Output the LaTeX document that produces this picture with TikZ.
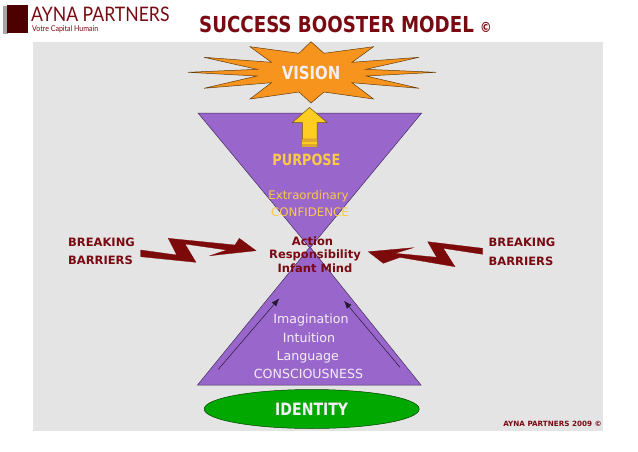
\documentclass[tikz,border=0pt]{standalone}
\usepackage{fontspec}
\setmainfont{DejaVu Sans}
\newfontfamily\condfont[FakeStretch=0.92]{DejaVu Sans Condensed}
\newfontfamily\logofont[FakeStretch=0.88]{Lato}
\usetikzlibrary{arrows.meta,calc,shapes.geometric}
\definecolor{darkred}{HTML}{7A0A12}
\definecolor{boltred}{HTML}{7D0A0A}
\definecolor{panelgray}{HTML}{E4E4E4}
\definecolor{starorange}{HTML}{F7941D}
\definecolor{tripurple}{HTML}{9966CC}
\definecolor{arrowyellow}{HTML}{FFCC22}
\definecolor{purposegold}{HTML}{FBC94A}
\definecolor{idgreen}{HTML}{00A800}
\definecolor{softwhite}{HTML}{F4EEF6}
\tikzset{
  plaintext/.style={inner sep=0pt,align=center},
  barrier/.style={plaintext,text=darkred,font=\bfseries\fontsize{11.5}{13}\selectfont},
  centertext/.style={plaintext,text=darkred,font=\bfseries\fontsize{11.5}{13}\selectfont},
  goldtext/.style={plaintext,text=purposegold,font=\fontsize{11.8}{13}\selectfont},
  whitetext/.style={plaintext,text=softwhite,font=\fontsize{12.6}{14}\selectfont},
  bigtext/.style={plaintext,font=\bfseries\condfont\fontsize{17}{20}\selectfont},
  bolt/.style={fill=boltred,draw=boltred,line width=0.3pt},
  thinarrow/.style={-{Latex[length=8pt,width=6pt]},draw=black!75!tripurple,line width=0.5pt}
}
\begin{document}
\begin{tikzpicture}[x=1pt,y=-1pt]
\useasboundingbox (0,0) rectangle (638,451);
\fill[white] (0,0) rectangle (638,451);

\fill[black!35] (3,6) rectangle (8,34);
\fill[black!70!red] (7,5) rectangle (28,33);
\node[plaintext,anchor=west,text=darkred,font=\logofont\fontsize{20}{22}\selectfont] (logo) at (31,14.5) {AYNA PARTNERS};
\node[plaintext,anchor=west,text=darkred,font=\logofont\fontsize{8}{10}\selectfont] (tagline) at (32,29) {Votre Capital Humain};
\node[plaintext,anchor=west,text=darkred,font=\bfseries\condfont\fontsize{22}{24}\selectfont] (title) at (199,24) {SUCCESS BOOSTER MODEL \fontsize{14}{16}\selectfont ©};

\fill[panelgray] (33,42) rectangle (603,431);

\draw[fill=starorange,draw=black!60!starorange,line width=0.5pt] (311,41.7) -- (324,53.3) -- (373.5,46.7) -- (352,62.3) -- (419,57.3) -- (366,69.3) -- (436,72.3) -- (366,76) -- (419,88.3) -- (352,82.7) -- (373.5,99) -- (324,92) -- (311,103) -- (299,92) -- (250,99) -- (271.4,82.7) -- (204,88.3) -- (257,76) -- (188,72.3) -- (257,69.3) -- (204,57.3) -- (271.4,62.3) -- (250,46.7) -- (299,53.3) -- cycle;
\node[bigtext,text=softwhite,font=\bfseries\condfont\fontsize{18}{20}\selectfont] (vision) at (311,73) {VISION};

\draw[fill=tripurple,draw=black!55!tripurple,line width=0.5pt] (198,113) -- (421.7,113) -- (310,248) -- cycle;
\draw[fill=tripurple,draw=black!55!tripurple,line width=0.5pt] (197.5,385) -- (421,385) -- (310,247) -- cycle;

\draw[fill=arrowyellow,draw=black!60!arrowyellow,line width=0.5pt] (309.5,107.5) -- (327.3,122.7) -- (317,122.7) -- (317,139) -- (302.3,139) -- (302.3,122.7) -- (292.3,122.7) -- cycle;
\fill[arrowyellow!50!brown] (302.3,139) rectangle (317,142);
\fill[arrowyellow] (302.3,142) rectangle (317,144);
\fill[arrowyellow!50!brown] (302.3,144) rectangle (317,147);

\node[bigtext,text=purposegold,font=\bfseries\condfont\fontsize{15.5}{18}\selectfont] (purpose) at (306.5,160) {PURPOSE};
\node[goldtext] (extra) at (308.5,196.5) {Extraordinary};
\node[goldtext] (confidence) at (310,212) {CONFIDENCE};

\node[centertext] (action) at (312.5,241) {Action};
\node[centertext] (resp) at (315,255) {Responsibility};
\node[centertext] (infant) at (315,268.5) {Infant Mind};

\coordinate (leftfoot) at (218.3,369.3);
\coordinate (lefthead) at (279.3,298.3);
\coordinate (rightfoot) at (400,367.3);
\coordinate (righthead) at (344,300.7);
\draw[thinarrow] (leftfoot) -- (lefthead);
\draw[thinarrow] (rightfoot) -- (righthead);

\node[whitetext] (imagination) at (311,320) {Imagination};
\node[whitetext] (intuition) at (309,338) {Intuition};
\node[whitetext] (language) at (307.7,357) {Language};
\node[whitetext] (conscious) at (308.5,374) {CONSCIOUSNESS};

\node[ellipse,draw=black!60!idgreen,fill=idgreen,line width=0.5pt,minimum width=215pt,minimum height=39pt,inner sep=0pt] (identity) at (311.7,409) {};
\node[bigtext,text=softwhite] (identitytext) at (identity) {IDENTITY};

\draw[bolt] (140.7,250) -- (176.7,255) -- (168.3,238.3) -- (235,245) -- (239.3,238.3) -- (256,250.7) -- (210,255.7) -- (226.7,250) -- (185,244) -- (196,262.3) -- (140.7,256.7) -- cycle;
\draw[bolt] (482.7,248.3) -- (482.7,254.3) -- (443.3,248.3) -- (455,266.7) -- (400,257.3) -- (383.3,263.3) -- (368.3,251.7) -- (413.3,247.7) -- (395,253.3) -- (436.7,257.3) -- (427.7,241.7) -- cycle;

\node[barrier,anchor=west] (breakl) at (68,242) {BREAKING};
\node[barrier,anchor=west] (barl) at (68,260) {BARRIERS};
\node[barrier,anchor=west] (breakr) at (488.5,242) {BREAKING};
\node[barrier,anchor=west] (barr) at (488.5,261) {BARRIERS};

\node[plaintext,anchor=east,text=darkred,font=\bfseries\fontsize{7.2}{9}\selectfont] (footer) at (602,424) {AYNA PARTNERS 2009 ©};
\end{tikzpicture}
\end{document}
